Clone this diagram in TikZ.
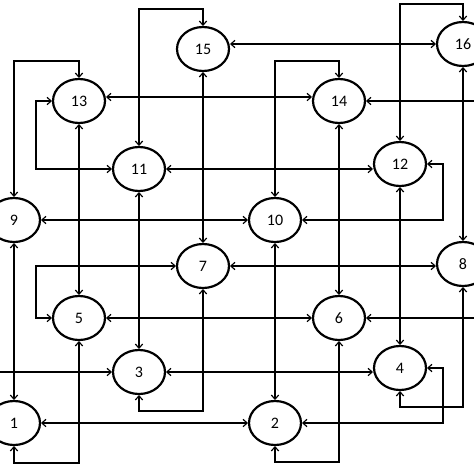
\documentclass[tikz,border=0pt]{standalone}
\usepackage{fontspec}
\setmainfont{Carlito}
\usetikzlibrary{arrows.meta,shapes.geometric}

\begin{document}
\begin{tikzpicture}[x=1pt, y=-1pt,
    cell/.style={draw, ellipse, line width=2.2pt, minimum width=52pt, minimum height=44pt, inner sep=0pt, font=\fontsize{16}{18}\selectfont},
    link/.style={{Straight Barb[length=4pt,width=7.5pt]}-{Straight Barb[length=4pt,width=7.5pt]}, line width=1.2pt},
    stub/.style={{Straight Barb[length=4pt,width=7.5pt]}-, line width=1.2pt}
  ]
    \useasboundingbox (0,0) rectangle (474,474);
    \clip (0,0) rectangle (474,474);

    % cells
    \node[cell] (n1) at (14,423) {1};
    \node[cell] (n2) at (275,423) {2};
    \node[cell] (n3) at (139,372) {3};
    \node[cell] (n4) at (400,368) {4};
    \node[cell] (n5) at (79,318) {5};
    \node[cell] (n6) at (339,318) {6};
    \node[cell] (n7) at (203,266) {7};
    \node[cell] (n8) at (463,264) {8};
    \node[cell] (n9) at (14,220) {9};
    \node[cell] (n10) at (275,220) {10};
    \node[cell] (n11) at (139,169) {11};
    \node[cell] (n12) at (400,164) {12};
    \node[cell] (n13) at (79,101) {13};
    \node[cell] (n14) at (339,101) {14};
    \node[cell] (n15) at (203,49) {15};
    \node[cell] (n16) at (463,44) {16};

    \coordinate (w3) at (0,371);
    \coordinate (e6) at (474,318);
    \coordinate (e14) at (474,100);

    % rows
    \draw[link] (n15.east |- n16) -- (n16);
    \draw[link] ([yshift=4pt]n13.east) -- ([yshift=4pt]n14.west);
    \draw[link] (n11) -- (n11 -| n12.west);
    \draw[link] (n9) -- (n10);
    \draw[link] (n7) -- (n7 -| n8.west);
    \draw[link] (n5) -- (n6);
    \draw[link] (n3) -- (n3 -| n4.west);
    \draw[link] (n1) -- (n2);

    % columns
    \draw[link] (n15) -- (n7);
    \draw[link] (n13) -- (n5);
    \draw[link] (n11) -- (n3);
    \draw[link] (n9) -- (n1);
    \draw[link] (n16) -- (n8);
    \draw[link] (n14) -- (n6);
    \draw[link] (n12) -- (n4);
    \draw[link] (n10) -- (n2);

    % wrap-around
    \draw[link] (n11) -- (n11 |- 0,9) -| (n15);
    \draw[link] (n9) -- (n9 |- 0,61) -| (n13);
    \draw[link] (n13) -- (n13 -| 36,0) |- (n11);
    \draw[link] (n10) -- (n10 |- 0,61) -| (n14);
    \draw[link] (n12) -- (n12 |- 0,4) -| (n16);
    \draw[link] (n10) -- (n10 -| 443,0) |- (n12);
    \draw[link] (n7) -- (n7 -| 36,0) |- (n5);
    \draw[link] (n3) -- (n3 |- 0,411) -| (n7);
    \draw[link] (n5) -- (n5 |- 0,463) -| (n1);
    \draw[link] (n2) -- (n2 |- 0,462) -| (n6);
    \draw[link] (n2) -- (n2 -| 443,0) |- (n4);
    \draw[link] (n4) -- (n4 |- 0,407) -| (n8);
    \draw[stub] (n3) -- (n3 -| w3);
    \draw[stub] (n6) -- (e6);
    \draw[stub] (n14) -- (n14 -| e14);
  \end{tikzpicture}
\end{document}
